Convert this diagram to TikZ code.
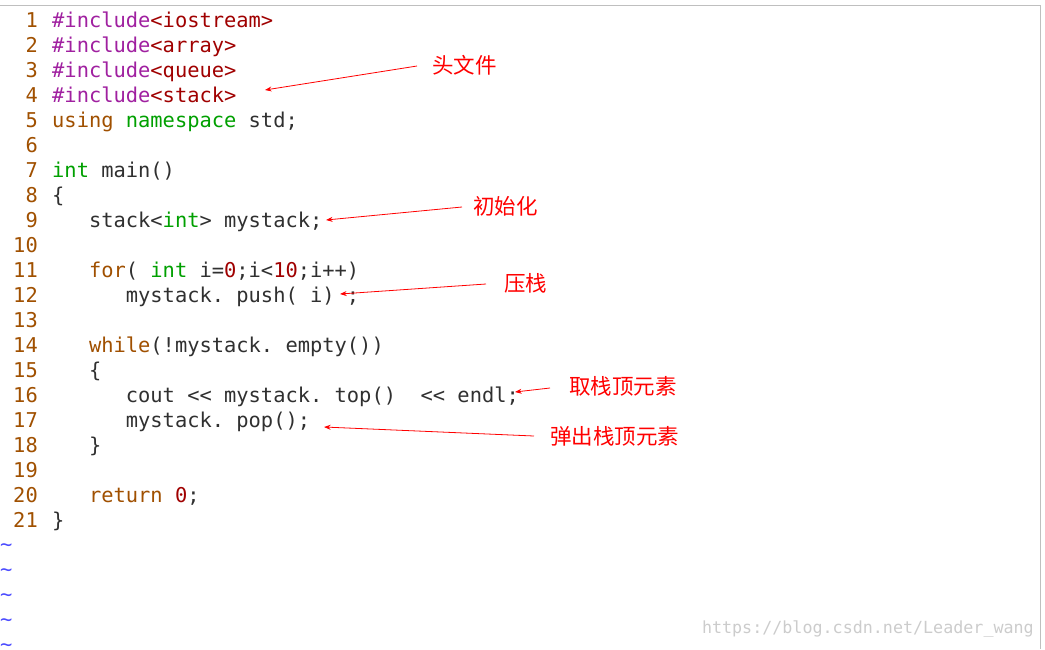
\documentclass[tikz,border=0pt]{standalone}
\usepackage{fontspec}
\setmonofont{DejaVu Sans Mono}
\newfontfamily\cjk{Noto Sans CJK SC}
\usetikzlibrary{arrows.meta}
\definecolor{vimpp}{HTML}{A020A0}
\definecolor{vimstr}{HTML}{A00000}
\definecolor{vimkw}{HTML}{A05000}
\definecolor{vimty}{HTML}{00A000}
\definecolor{vimtxt}{HTML}{303030}
\newcommand\pp[1]{\textcolor{vimpp}{#1}}
\newcommand\st[1]{\textcolor{vimstr}{#1}}
\newcommand\kw[1]{\textcolor{vimkw}{#1}}
\newcommand\ty[1]{\textcolor{vimty}{#1}}
\begin{document}
\begin{tikzpicture}[x=1pt,y=-1pt]
	\tikzset{>=Stealth,
		codeline/.style={anchor=base west,inner sep=0pt,font=\ttfamily\fontsize{20.4}{20}\selectfont,text=vimtxt},
		lineno/.style={anchor=base east,inner sep=0pt,font=\ttfamily\fontsize{20.4}{20}\selectfont,text=vimkw},
		note/.style={anchor=west,inner sep=0pt,font=\cjk\fontsize{21.5}{21.5}\selectfont,text=red},
		notearrow/.style={->,red,thick}}
	\useasboundingbox (0,0) rectangle (1045,649);
	\fill[white] (0,0) rectangle (1045,649);
	\draw[gray!50] (0,5) -- (1040,5) -- (1040,649);
	% line numbers
	\foreach \i in {1,...,21}
	\node[lineno] (n\i) at (38,{27+25*(\i-1)}) {\i};
	\foreach \i in {22,...,26}
	\node[lineno,anchor=base west,text=blue!70] (t\i) at (0,{26+25*(\i-1)}) {\char`\~};
	% code
	\node[codeline] (c1) at (52,27) {\pp{\#include}\st{<iostream>}};
	\node[codeline] (c2) at (52,52) {\pp{\#include}\st{<array>}};
	\node[codeline] (c3) at (52,77) {\pp{\#include}\st{<queue>}};
	\node[codeline] (c4) at (52,102) {\pp{\#include}\st{<stack>}};
	\node[codeline] (c5) at (52,127) {\kw{using} \ty{namespace} std;};
	\node[codeline] (c7) at (52,177) {\ty{int} main()};
	\node[codeline] (c8) at (52,202) {\{};
	\node[codeline] (c9) at (52,227) {~~~stack<\ty{int}> mystack;};
	\node[codeline] (c11) at (52,277) {~~~\kw{for}( \ty{int} i=\st{0};i<\st{10};i++)};
	\node[codeline] (c12) at (52,302) {~~~~~~mystack.~push(~i)~;};
	\node[codeline] (c14) at (52,352) {~~~\kw{while}(!mystack.~empty())};
	\node[codeline] (c15) at (52,377) {~~~\{};
	\node[codeline] (c16) at (52,402) {~~~~~~cout << mystack.~top()~~<< endl;};
	\node[codeline] (c17) at (52,427) {~~~~~~mystack.~pop();};
	\node[codeline] (c18) at (52,452) {~~~\}};
	\node[codeline] (c20) at (52,502) {~~~\kw{return} \st{0};};
	\node[codeline] (c21) at (52,527) {\}};
	% notes
	\node[note] (hdr) at (432,65) {头文件};
	\node[note] (init) at (473,206) {初始化};
	\node[note] (push) at (504,283) {压栈};
	\node[note] (top) at (569,386) {取栈顶元素};
	\node[note] (pop) at (550,436) {弹出栈顶元素};
	\coordinate (a4) at (265,90);
	\coordinate (a9) at (326,220);
	\coordinate (a12) at (340,294);
	\coordinate (a16) at (515,392);
	\coordinate (a17) at (324,427);
	\draw[notearrow] (417,66) -- (a4);
	\draw[notearrow] (462,207) -- (a9);
	\draw[notearrow] (486,284) -- (a12);
	\draw[notearrow] (550,388) -- (a16);
	\draw[notearrow] (534,436) -- (a17);
	\node[anchor=east,inner sep=0pt,font=\ttfamily\fontsize{16.7}{16.7}\selectfont,text=gray!40] (wm) at (1034,629) {https://blog.csdn.net/Leader\_wang};
\end{tikzpicture}
\end{document}
